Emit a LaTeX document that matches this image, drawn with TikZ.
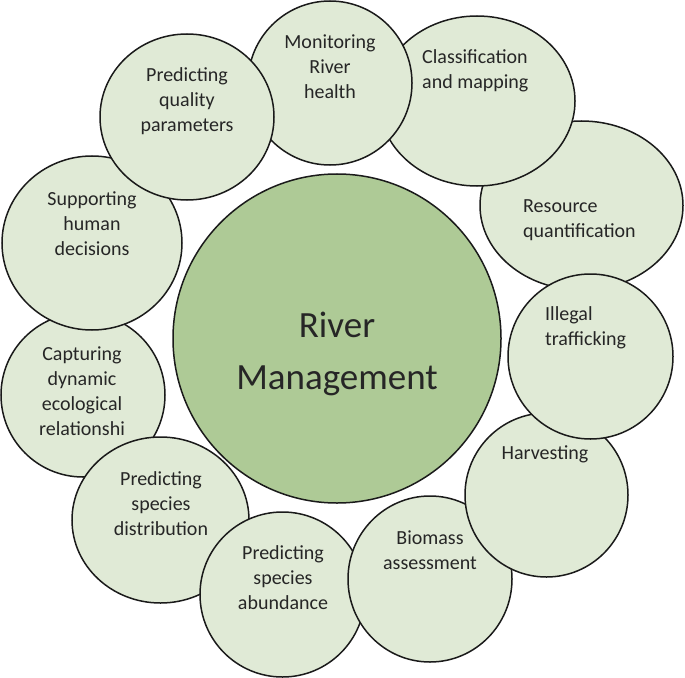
\documentclass[tikz,border=0pt]{standalone}
\usepackage{fontspec}
\setmainfont{Carlito}
\usetikzlibrary{shapes.geometric}
\definecolor{lightfill}{RGB}{224,234,214}
\definecolor{mainfill}{RGB}{174,202,150}
\definecolor{edgecol}{RGB}{26,26,26}
\definecolor{txtcol}{RGB}{38,38,38}
\tikzset{
  bubble/.style={ellipse, draw=edgecol, line width=1.5bp, fill=lightfill, inner sep=0pt},
  hub/.style={ellipse, draw=edgecol, line width=1.5bp, fill=mainfill, inner sep=0pt},
  lbl/.style={inner sep=0pt, text=txtcol, font=\fontsize{20bp}{25bp}\selectfont, align=center},
  lbll/.style={lbl, align=left, anchor=west},
  hublbl/.style={inner sep=0pt, text=txtcol, font=\fontsize{37bp}{52bp}\selectfont, align=center}
}
\begin{document}
\begin{tikzpicture}[x=1bp,y=-1bp]
\useasboundingbox (0,0) rectangle (685,678);
% central
\node[hub, minimum width=328bp, minimum height=329bp] (hubc) at (337,338.5) {};
\node[hublbl] (hubt) at (337,354) {River\\Management};
% outer bubbles in stacking order
\node[bubble, minimum width=203bp, minimum height=169bp] (res) at (581.5,205.5) {};
\node[lbll] (rest) at (523,220) {Resource\\quantification};
\node[bubble, minimum width=196bp, minimum height=170bp] (cla) at (477,101) {};
\node[lbll] (clat) at (422,70.5) {Classification\\and mapping};
\node[bubble, minimum width=164bp, minimum height=164bp] (mon) at (330,83) {};
\node[lbl] (mont) at (330,67) {Monitoring\\River\\health};
\node[bubble, minimum width=164bp, minimum height=164bp] (cap) at (83,395) {};
\node[lbl] (capt) at (82,391) {Capturing\\dynamic\\ecological\\relationshi};
\node[bubble, minimum width=180bp, minimum height=174bp] (sup) at (92,243) {};
\node[lbl] (supt) at (92,224) {Supporting\\human\\decisions};
\node[bubble, minimum width=174bp, minimum height=166bp] (prq) at (187,117) {};
\node[lbl] (prqt) at (187,101.5) {Predicting\\quality\\parameters};
\node[bubble, minimum width=177bp, minimum height=166bp] (dis) at (160.5,520) {};
\node[lbl] (dist) at (161,503.5) {Predicting\\species\\distribution};
\node[bubble, minimum width=165bp, minimum height=165bp] (abu) at (282.5,594.5) {};
\node[lbl] (abut) at (283,578) {Predicting\\species\\abundance};
\node[bubble, minimum width=164bp, minimum height=166bp] (bio) at (430,579) {};
\node[lbl] (biot) at (430,550) {Biomass\\assessment};
\node[bubble, minimum width=163bp, minimum height=164bp] (har) at (546.5,495) {};
\node[lbl] (hart) at (545,454) {Harvesting};
\node[bubble, minimum width=165bp, minimum height=165bp] (ill) at (590.5,356.5) {};
\node[lbll] (illt) at (545,327.5) {Illegal\\trafficking};
\end{tikzpicture}
\end{document}
